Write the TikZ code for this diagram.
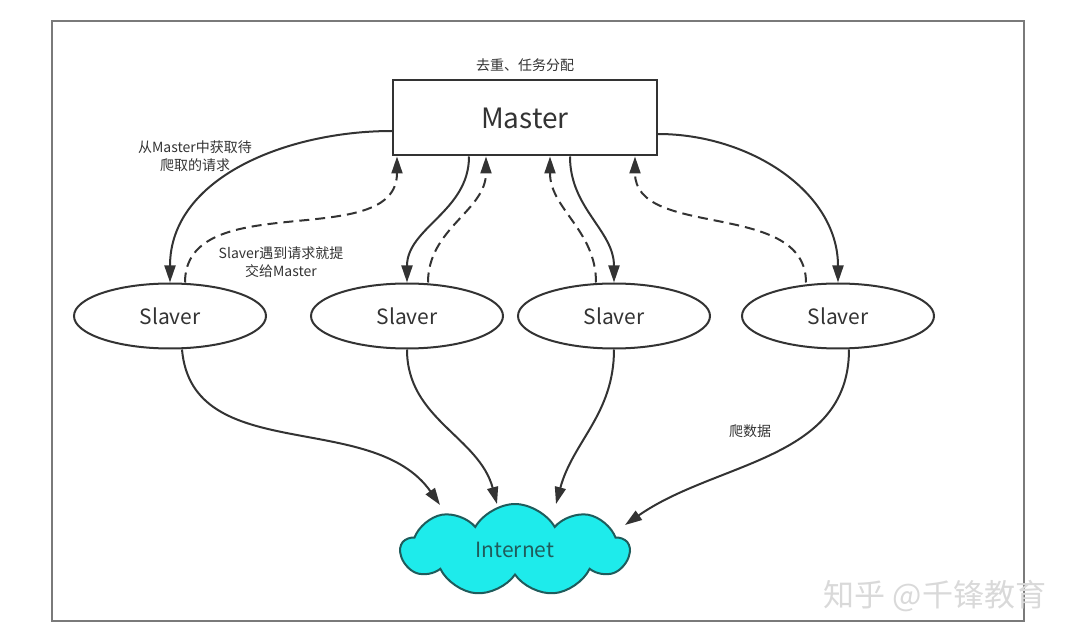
\documentclass[tikz,border=0pt]{standalone}
\usepackage{fontspec}
\newfontfamily\cjk{Noto Sans CJK SC}
\usepackage{xcolor}
\usepackage{tikz}
\usetikzlibrary{arrows.meta,positioning,shapes.geometric,shapes.symbols}
\definecolor{linha}{HTML}{333333}
\definecolor{moldura}{HTML}{7A7A7A}
\definecolor{ciano}{HTML}{1EEBEB}
\definecolor{cianoEscuro}{HTML}{1F5C5C}
\tikzset{
    caixa/.style={
        rectangle,
        draw=linha,
        line width=2pt,
        minimum width=264pt,
        minimum height=75pt,
        text=linha,
        font=\cjk\fontsize{28}{32}\selectfont
    },
    escravo/.style={
        ellipse,
        draw=linha,
        line width=2pt,
        inner sep=0pt,
        minimum width=192pt,
        minimum height=65pt,
        text=linha,
        font=\cjk\fontsize{21}{24}\selectfont
    },
    nuvem/.style={
        cloud,
        cloud puffs=9,
        cloud puff arc=120,
        aspect=2.5,
        draw=cianoEscuro,
        fill=ciano,
        line width=2pt,
        inner sep=0pt,
        minimum width=228pt,
        minimum height=92pt,
        text=cianoEscuro,
        font=\cjk\fontsize{21}{24}\selectfont
    },
    rotulo/.style={align=center, text=linha, font=\cjk\fontsize{14}{18}\selectfont},
    fluxo/.style={-{Triangle[length=17pt,width=11pt]}, line width=2pt, draw=linha},
    retorno/.style={fluxo, dash pattern=on 10pt off 6pt}
}

\begin{document}
\begin{tikzpicture}[x=1pt, y=-1pt]
    \useasboundingbox (0,0) rectangle (1080,639);
    \draw[moldura, line width=1.3pt] (52,21) rectangle (1024,621);

    \node[caixa] (master) at (525,118) {Master};
    \node[rotulo, above=4pt of master] (tarefa) {去重、任务分配};
    \node[escravo] (sl1) at (170,316) {Slaver};
    \node[escravo] (sl2) at (407,316) {Slaver};
    \node[escravo] (sl3) at (614,316) {Slaver};
    \node[escravo] (sl4) at (838,316) {Slaver};
    \node[nuvem] (net) at (515,550) {Internet};

    \node[rotulo] (pegar) at (195,156) {从Master中获取待\\爬取的请求};
    \node[rotulo] (entregar) at (281,262) {Slaver遇到请求就提\\交给Master};
    \node[rotulo] (dados) at (750,431) {爬数据};
    \node[text=gray!30, font=\cjk\fontsize{31}{34}\selectfont] (marca) at (935,596) {知乎 @千锋教育};

    % master -> slaver
    \draw[fluxo] ([yshift=-13pt]master.west) to[out=180, in=90] (sl1.north);
    \draw[fluxo] ([xshift=77pt]master.south west) to[out=-90, in=90] (sl2.north);
    \draw[fluxo] ([xshift=178pt]master.south west) to[out=-90, in=90] (sl3.north);
    \draw[fluxo] ([yshift=-16pt]master.east) to[out=0, in=90] (sl4.north);

    % slaver -> master
    \draw[retorno] ([xshift=15pt]sl1.north) to[out=90, in=-90] ([xshift=5pt]master.south west);
    \draw[retorno] ([xshift=21pt]sl2.north) to[out=90, in=-90] ([xshift=94pt]master.south west);
    \draw[retorno] ([xshift=-18pt]sl3.north) to[out=90, in=-90] ([xshift=158pt]master.south west);
    \draw[retorno] ([xshift=-32pt]sl4.north) to[out=90, in=-90] ([xshift=243pt]master.south west);

    % slaver -> internet
    \draw[fluxo] ([xshift=12pt]sl1.south) to[out=-85, in=125] ([xshift=-75pt, yshift=45pt]net.center);
    \draw[fluxo] (sl2.south) to[out=-90, in=105] ([xshift=-18pt, yshift=46pt]net.center);
    \draw[fluxo] (sl3.south) to[out=-90, in=75] ([xshift=41pt, yshift=46pt]net.center);
    \draw[fluxo] ([xshift=11pt]sl4.south) to[out=-90, in=35] ([xshift=110pt, yshift=25pt]net.center);
\end{tikzpicture}
\end{document}
